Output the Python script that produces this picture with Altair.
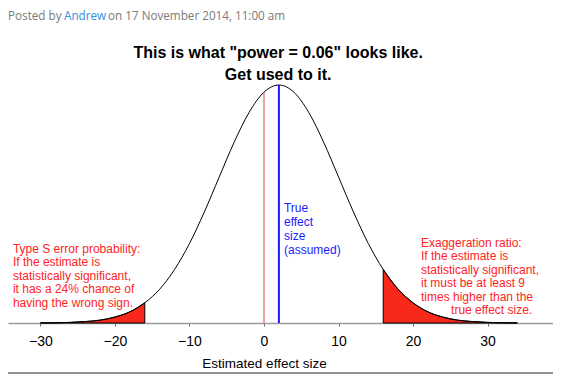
import altair as alt
import pandas as pd

# ---- data ----
curve_x = [-30, -28, -26, -24, -22, -20, -18, -16, -14, -12, -10, -8, -6, -4, -2, 0,
           2, 4, 6, 8, 10, 12, 14, 16, 18, 20, 22, 24, 26, 28, 30, 32, 34]
curve_y = [0.0004, 0.001, 0.0025, 0.006, 0.012, 0.025, 0.047, 0.085, 0.142, 0.225,
           0.334, 0.467, 0.614, 0.760, 0.885, 0.970, 1.000, 0.970, 0.885, 0.760,
           0.614, 0.467, 0.334, 0.225, 0.142, 0.085, 0.047, 0.025, 0.012, 0.006,
           0.0025, 0.001, 0.0004]
cutoff_low, cutoff_high = -16, 16
zero_x, zero_top = 0, 0.970
true_x, true_top = 2, 1.000
tick_values = [-30, -20, -10, 0, 10, 20, 30]

title_text = 'This is what "power = 0.06" looks like.\nGet used to it.'
true_text = "True\neffect\nsize\n(assumed)"
left_text = ("Type S error probability:\nIf the estimate is\nstatistically significant,\n"
             "it has a 24% chance of\nhaving the wrong sign.")
right_text = ("Exaggeration ratio:\nIf the estimate is\nstatistically significant,\n"
              "it must be at least 9\ntimes higher than the")
right_last = "true effect size."
x_title = "Estimated effect size"
header_parts = ["Posted by", "Andrew", "on 17 November 2014, 11:00 am"]

FONT = "Liberation Sans, Arial, Helvetica, sans-serif"
HFONT = "Open Sans, Noto Sans, sans-serif"

curve = pd.DataFrame({"x": curve_x, "y": curve_y})
left_tail = curve[curve.x <= cutoff_low]
right_tail = curve[curve.x >= cutoff_high]

xs = alt.Scale(domain=[-34.36, 38.79], nice=False, zero=False)
ys = alt.Scale(domain=[0, 1.3235], nice=False, zero=False)

X = alt.X("x:Q", scale=xs, title=x_title,
          axis=alt.Axis(values=tick_values, grid=False, domainColor="#9c9c9c",
                        domainWidth=1.5, tickColor="#666", tickSize=3,
                        labelFontSize=14, labelFont=FONT, labelColor="#000",
                        labelBaseline="middle", labelPadding=15,
                        titleFont=FONT, titleFontSize=13.5, titleFontWeight="normal",
                        titleColor="#000", titleX=256, titleY=40,
                        titleBaseline="middle", titleAlign="center", titleAnchor="start"))
Y = alt.Y("y:Q", scale=ys, axis=None)

tail_l = alt.Chart(left_tail).mark_area(color="#f8291b", stroke="#000", strokeWidth=1,
                                        interpolate="monotone").encode(x=X, y=Y)
tail_r = alt.Chart(right_tail).mark_area(color="#f8291b", stroke="#000", strokeWidth=1,
                                         interpolate="monotone").encode(x=X, y=Y)
line = alt.Chart(curve).mark_line(color="#000", strokeWidth=1,
                                  interpolate="monotone").encode(x=X, y=Y)

def vrule(xv, top, color, w):
    df = pd.DataFrame({"x": [xv], "y": [0], "y2": [top]})
    return alt.Chart(df).mark_rule(color=color, strokeWidth=w).encode(
        x=alt.X("x:Q"), y=alt.Y("y:Q"), y2="y2:Q")

zero_rule = vrule(zero_x, zero_top, "#e4473d", 1)
true_rule = vrule(true_x, true_top, "#1b1bff", 2)

def label(txt, xv, yv, color, size, align="left", weight="normal", lh=14, font=FONT):
    df = pd.DataFrame({"x": [xv], "y": [yv], "t": [txt]})
    return alt.Chart(df).mark_text(align=align, baseline="middle", color=color,
                                   fontSize=size, fontWeight=weight, font=font,
                                   lineBreak="\n", lineHeight=lh).encode(
        x=alt.X("x:Q"), y=alt.Y("y:Q"), text="t:N")

title = label(title_text, 1.9, 1.134, "#000", 16, align="center", weight="bold", lh=22)
true_lbl = label(true_text, 2.68, 0.483, "#1b1bff", 12, lh=14)
left_lbl = label(left_text, -33.7, 0.311, "#ff2323", 12, lh=13.4)
right_lbl = label(right_text, 21.07, 0.337, "#ff2323", 12, lh=13.5)
right_lbl2 = label(right_last, 36.0, 0.0546, "#ff2323", 12, align="right")

def header(txt, px, color):
    df = pd.DataFrame({"t": [txt]})
    return alt.Chart(df).mark_text(align="left", baseline="middle", color=color,
                                   fontSize=11.7, font=HFONT).encode(
        x=alt.value(px), y=alt.value(8), text="t:N")

h1 = header(header_parts[0], 0, "#7a7a7a")
h2 = header(header_parts[1], 56, "#2f8fe6")
h3 = header(header_parts[2], 100, "#7a7a7a")

sep = alt.Chart(pd.DataFrame({"t": [0]})).mark_rule(color="#6e6e6e", strokeWidth=1.5).encode(
    x=alt.value(-3), x2=alt.value(547), y=alt.value(365))

chart = alt.layer(
    tail_l, tail_r, line, zero_rule, true_rule,
    title, true_lbl, left_lbl, right_lbl, right_lbl2, h1, h2, h3, sep
).properties(
    width=545, height=315,
    autosize=alt.AutoSizeParams(type="none"),
    padding={"left": 0, "top": 0, "right": 0, "bottom": 53},
    background="white",
).configure_view(stroke=None)

chart.save("out.html", embed_options={"renderer": "svg", "actions": False})
